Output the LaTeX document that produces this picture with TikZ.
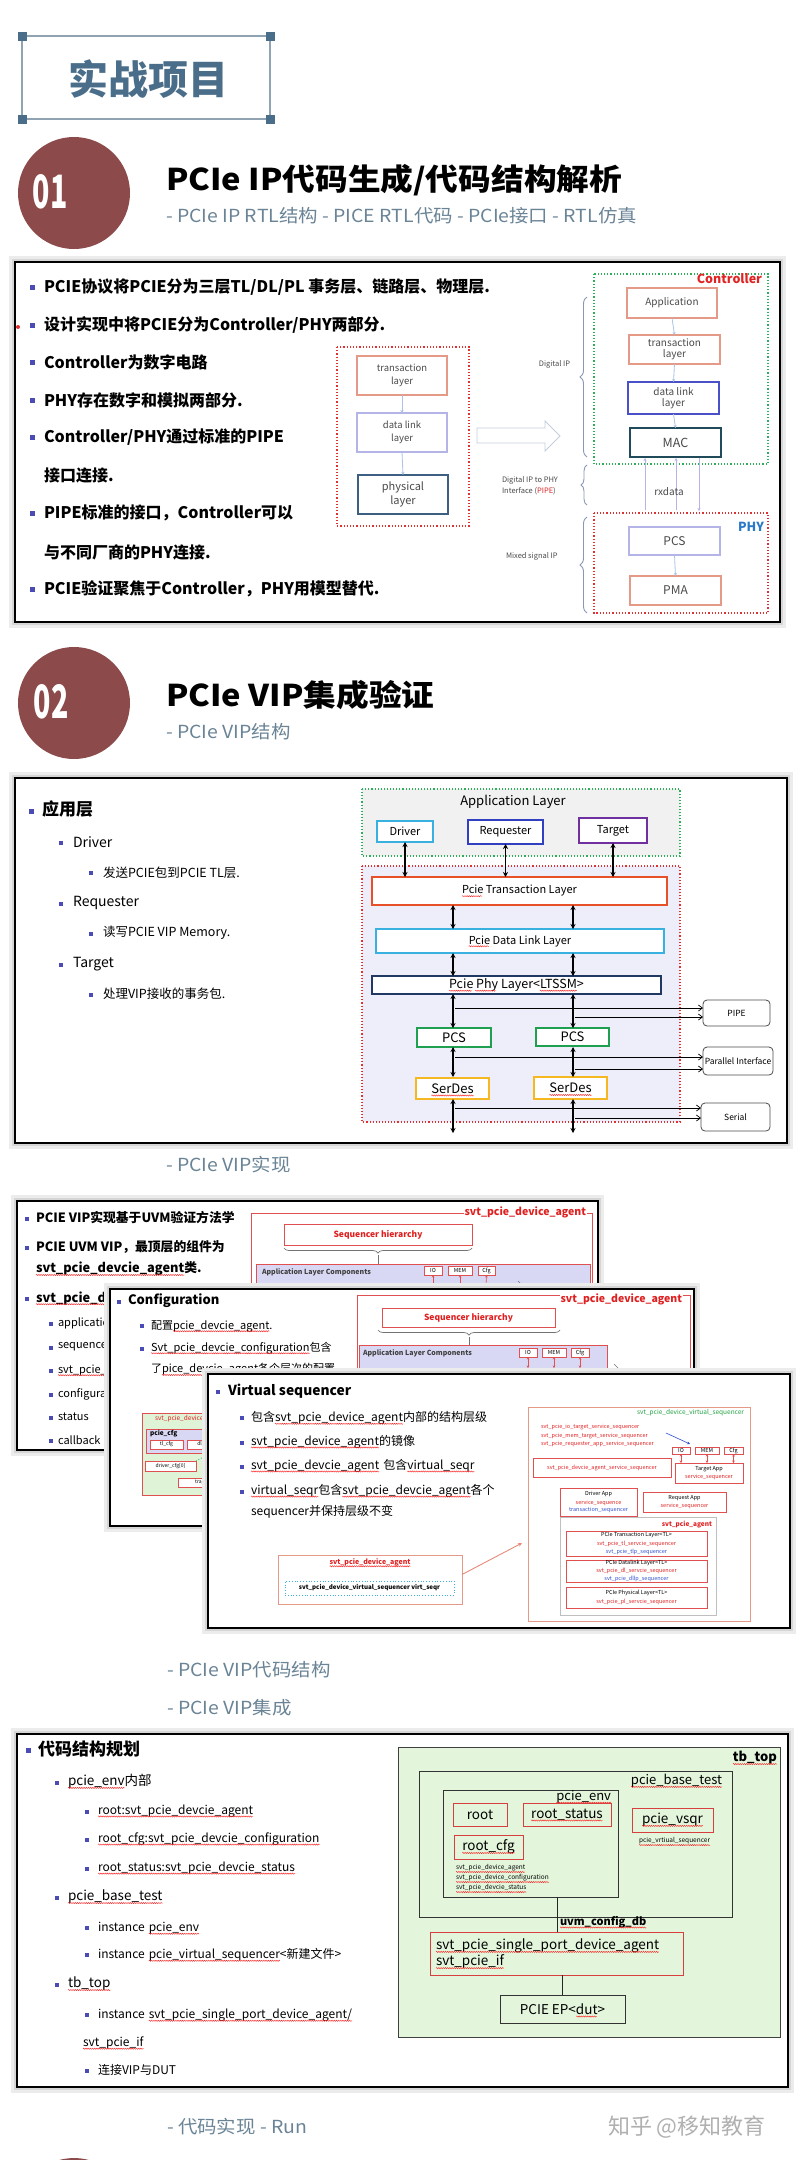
\documentclass[tikz,border=0pt]{standalone}
\usepackage{fontspec}
\setmainfont{Noto Sans CJK SC}
\usetikzlibrary{arrows.meta,decorations.pathreplacing,decorations.pathmorphing}
\definecolor{hblue}{HTML}{4A6E8A}
\definecolor{hline}{HTML}{8FA3B3}
\definecolor{circ}{HTML}{8C4A4A}
\definecolor{subc}{HTML}{6A8496}
\definecolor{bulc}{HTML}{4B4BB5}
\definecolor{salmon}{HTML}{E49A86}
\definecolor{lpurp}{HTML}{B4B4E6}
\definecolor{dkblue}{HTML}{3C5F82}
\definecolor{lblue}{HTML}{A9C2E6}
\definecolor{gdot}{HTML}{2FAE5A}
\definecolor{rdot}{HTML}{E03030}
\definecolor{ctrlred}{HTML}{E02424}
\definecolor{phyblue}{HTML}{2A78C8}
\definecolor{braceg}{HTML}{8A98B8}
\definecolor{mblue}{HTML}{4A50C8}
\definecolor{macc}{HTML}{1F4B5A}
\definecolor{txg}{HTML}{4A4A4A}
\definecolor{appfill}{HTML}{F1F1F1}
\definecolor{lavfill}{HTML}{EEEEFA}
\definecolor{cyanb}{HTML}{38B0E0}
\definecolor{reqb}{HTML}{3040C0}
\definecolor{tgtb}{HTML}{7030A0}
\definecolor{tlred}{HTML}{E8502A}
\definecolor{navy}{HTML}{1F3864}
\definecolor{pcsg}{HTML}{1FA050}
\definecolor{serd}{HTML}{F5B820}
\definecolor{sred}{HTML}{E05050}
\definecolor{slav}{HTML}{D8D8F4}
\definecolor{sgreen}{HTML}{DFF3D6}
\definecolor{rtext}{HTML}{E02020}
\definecolor{gtext}{HTML}{20A040}
\definecolor{btext}{HTML}{3050D0}
\definecolor{tbfill}{HTML}{E3F6DC}
\definecolor{cred}{HTML}{D84040}
\definecolor{wm}{HTML}{B0B0B0}
\newcommand\F[1]{\fontsize{#1}{#1}\selectfont}
\newcommand\bu[3]{\fill[bulc] (#1-#3/2,#2-#3/2) rectangle (#1+#3/2,#2+#3/2);}
\newcommand\shbox[4]{\fill[gray!15] (#1-6,#2-6) rectangle (#3+6,#4+6);\fill[gray!32] (#1-3,#2-3) rectangle (#3+3,#4+3);\fill[white] (#1,#2) rectangle (#3,#4);}
\newcommand\bx[7]{\node[#6,minimum width={#4-#2},minimum height={#5-#3},anchor=center] (#1) at ({(#2+#4)/2},{(#3+#5)/2}) {#7};}
\newcommand\ul[1]{\draw[wavy] ([yshift=-2.2pt]#1.base west) -- ([yshift=-2.2pt]#1.base east);}
\begin{document}
\begin{tikzpicture}[x=1pt,y=-1pt,every node/.style={inner sep=0pt,outer sep=0pt},
  T/.style={anchor=west}, E/.style={anchor=east}, C/.style={anchor=base west},
  wavy/.style={draw=red!85,line width=0.45pt,decorate,decoration={snake,amplitude=0.6pt,segment length=2.2pt}},
  dar/.style={{Stealth[length=5pt,width=5pt]}-{Stealth[length=5pt,width=5pt]},line width=1.5pt},
  thar/.style={-{Straight Barb[length=4pt,width=6pt]},line width=0.7pt},
  lbar/.style={-{Stealth[length=3pt,width=3pt]},lblue,line width=0.8pt},
  sar/.style={{Stealth[length=2.5pt,width=2.5pt]}-{Stealth[length=2.5pt,width=2.5pt]},sred,line width=0.6pt},
  sub/.style={anchor=west,font=\F{18},text=subc,xscale=1.08}]
\fill[white] (0,0) rectangle (798,2160);
\useasboundingbox (0,0) rectangle (798,2160);

% ===== header =====
\draw[hline,line width=1.3pt] (22,36) rectangle (270,119);
\foreach \cx/\cy in {22/36,270/36,22/119,270/119} \fill[hblue] (\cx-4.5,\cy-4.5) rectangle (\cx+4.5,\cy+4.5);
\node[font=\F{40}\bfseries,text=hblue] (hdr) at (148,79) {实战项目};

\fill[circ] (74,193) circle[radius=56];
\node[font=\F{46}\bfseries,text=white,xscale=0.62] (n01) at (50,192) {01};
\node[T,font=\F{30}\bfseries,xscale=1.09] (t01) at (166,180) {PCIe IP代码生成/代码结构解析};
\node[sub] (s01) at (166,216) {- PCIe IP RTL结构 - PICE RTL代码 - PCIe接口 - RTL仿真};

% ===== section 1 box =====
\shbox{15}{262}{780}{622}
\bu{32}{287}{5}\node[T,font=\F{16}\bfseries] at (44,287) {PCIE协议将PCIE分为三层TL/DL/PL 事务层、链路层、物理层.};
\bu{32}{325}{5}\node[T,font=\F{16}\bfseries] at (44,325) {设计实现中将PCIE分为Controller/PHY两部分.};
\fill[rdot] (18,327) circle[radius=2];
\bu{32}{362}{5}\node[T,font=\F{16}\bfseries] at (44,362) {Controller为数字电路};
\bu{32}{400}{5}\node[T,font=\F{16}\bfseries] at (44,400) {PHY存在数字和模拟两部分.};
\bu{32}{437}{5}\node[T,font=\F{16}\bfseries] at (44,437) {Controller/PHY通过标准的PIPE};
\node[T,font=\F{16}\bfseries] at (44,476) {接口连接.};
\bu{32}{513}{5}\node[T,font=\F{16}\bfseries] at (44,513) {PIPE标准的接口，Controller可以};
\node[T,font=\F{16}\bfseries] at (44,552) {与不同厂商的PHY连接.};
\bu{32}{589}{5}\node[T,font=\F{16}\bfseries] at (44,589) {PCIE验证聚焦于Controller，PHY用模型替代.};

% left stack
\draw[rdot,dotted,line width=1.2pt] (337,347) rectangle (469,526);
\bx{ltl}{357}{356}{447}{395}{draw=salmon,line width=1.2pt,font=\F{9.5},text=txg,align=center}{transaction\\[3pt]layer}
\bx{ldl}{357}{413}{447}{452}{draw=lpurp,line width=1.2pt,font=\F{9.5},text=txg,align=center}{data link\\[3pt]layer}
\bx{lpl}{358}{475}{448}{514}{draw=dkblue,line width=1.8pt,font=\F{11},text=txg,align=center}{physical\\[2pt]layer}
\draw[lbar] (ltl.south) -- (ldl.north);
\draw[lbar] (ldl.south) -- (lpl.north);
% hollow arrow
\draw[lblue!70!gray!60,line width=0.8pt,fill=white] (477,428) -- (545,428) -- (545,421) -- (560,436) -- (545,451) -- (545,443) -- (477,443) -- cycle;
% braces
\draw[braceg,line width=0.9pt,decorate,decoration={brace,amplitude=7pt}] (587,457) -- (587,297);
\draw[braceg,line width=0.9pt,decorate,decoration={brace,amplitude=6pt}] (587,505) -- (587,465);
\draw[braceg,line width=0.9pt,decorate,decoration={brace,amplitude=7pt}] (587,613) -- (587,517);
\node[E,font=\F{7.5},text=txg] at (570,364) {Digital IP};
\node[T,font=\F{7.5},text=txg] at (502,480) {Digital IP to PHY};
\node[T,font=\F{7.5},text=txg] at (502,491) {Interface (\textcolor{ctrlred}{PIPE})};
\node[T,font=\F{7.5},text=txg] at (506,556) {Mixed signal IP};
% controller
\draw[gdot,dotted,line width=1.2pt] (594,274) rectangle (768,464);
\node[E,font=\F{12.5}\bfseries,text=ctrlred] at (762,279) {Controller};
\bx{capp}{627}{288}{717}{318}{draw=salmon,line width=1.2pt,font=\F{10},text=txg}{Application}
\bx{ctl}{629}{335}{720}{364}{draw=salmon,line width=1.2pt,font=\F{10},text=txg,align=center}{transaction\\[1pt]layer}
\bx{cdl}{628}{382}{719}{414}{draw=mblue,line width=1.6pt,font=\F{10},text=txg,align=center}{data link\\[1pt]layer}
\bx{cmac}{630}{428}{721}{457}{draw=macc,line width=1.8pt,font=\F{12.5},text=txg}{MAC}
\draw[lbar] (capp.south) -- (ctl.north);
\draw[lbar] (ctl.south) -- (cdl.north);
\draw[lbar] (cdl.south) -- (cmac.north);
% PHY
\draw[rdot,dotted,line width=1.2pt] (594,513) rectangle (768,613);
\node[E,font=\F{12.5}\bfseries,text=phyblue] at (764,527) {PHY};
\bx{ppcs}{629}{527}{720}{555}{draw=lpurp,line width=1.2pt,font=\F{12},text=txg}{PCS}
\bx{ppma}{630}{576}{721}{605}{draw=salmon,line width=1.2pt,font=\F{12},text=txg}{PMA}
\draw[lbar] (ppcs.south) -- (ppma.north);
\coordinate (m1) at (645,510); \coordinate (m2) at (676,510); \coordinate (m3) at (699,458);
\draw[lbar,lpurp] (m1) -- (645,458);
\draw[lbar,lpurp] (m2) -- (676,458);
\draw[lbar,lpurp] (m3) -- (699,511);
\node[font=\F{10},text=txg] at (669,492) {rxdata};
\draw[line width=2pt] (15,262) rectangle (780,622);

% ===== section 2 header =====
\fill[circ] (74,703) circle[radius=56];
\node[font=\F{46}\bfseries,text=white,xscale=0.62] (n02) at (51,702) {02};
\node[T,font=\F{30}\bfseries,xscale=1.09] (t02) at (166,695) {PCIe VIP集成验证};
\node[sub] (s02) at (166,732) {- PCIe VIP结构};

% ===== section 2 box =====
\shbox{15}{778}{787}{1143}
\bu{31}{811}{5}\node[T,font=\F{17}\bfseries] at (42,809) {应用层};
\bu{61}{843}{4}\node[T,font=\F{14}] at (73,842) {Driver};
\bu{91}{873}{4}\node[T,font=\F{12.5}] at (103,873) {发送PCIE包到PCIE TL层.};
\bu{61}{904}{4}\node[T,font=\F{14}] at (73,903) {Requester};
\bu{91}{934}{4}\node[T,font=\F{12.5}] at (103,933) {读写PCIE VIP Memory.};
\bu{61}{965}{4}\node[T,font=\F{14}] at (73,964) {Target};
\bu{91}{995}{4}\node[T,font=\F{12.5}] at (103,994) {处理VIP接收的事务包.};

\fill[appfill] (362,789) rectangle (680,856);
\draw[gdot,dotted,line width=1.1pt] (362,789) rectangle (680,856);
\node[font=\F{13}] (appl) at (513,802) {Application Layer};
\bx{drv}{377}{821}{433}{842}{draw=cyanb,line width=1.4pt,fill=white,font=\F{11}}{Driver}
\bx{req}{468}{820}{543}{844}{draw=reqb,line width=1.4pt,fill=white,font=\F{11}}{Requester}
\bx{tgt}{579}{818}{647}{843}{draw=tgtb,line width=1.4pt,fill=white,font=\F{11}}{Target}
\fill[lavfill] (362,866) rectangle (680,1122);
\draw[rdot,dotted,line width=1.1pt] (362,866) rectangle (680,1122);
\bx{ptl}{372}{877}{667}{905}{draw=tlred,line width=1.2pt,fill=white}{}
\node[font=\F{11}] (ptlt) at (ptl) {Pcie Transaction Layer};
\draw[wavy] ([yshift=-2.2pt]ptlt.base west) -- ([xshift=20pt,yshift=-2.2pt]ptlt.base west);
\bx{pdl}{376}{929}{664}{953}{draw=cyanb,line width=1.4pt,fill=white}{}
\node[font=\F{11}] (pdlt) at (pdl) {Pcie Data Link Layer};
\draw[wavy] ([yshift=-2.2pt]pdlt.base west) -- ([xshift=20pt,yshift=-2.2pt]pdlt.base west);
\bx{ppl}{372}{976}{661}{994}{draw=navy,line width=1.2pt,fill=white}{}
\node[font=\F{12.5}] (pplt) at (ppl) {Pcie Phy Layer<LTSSM>};
\draw[wavy] ([yshift=-2.2pt]pplt.base west) -- ([xshift=23pt,yshift=-2.2pt]pplt.base west);
\draw[wavy] ([xshift=26pt,yshift=-2.2pt]pplt.base west) -- ([xshift=47pt,yshift=-2.2pt]pplt.base west);
\draw[wavy] ([xshift=-44pt,yshift=-2.2pt]pplt.base east) -- ([xshift=-7pt,yshift=-2.2pt]pplt.base east);
\bx{pcs1}{417}{1028}{491}{1047}{draw=pcsg,line width=1.4pt,fill=white,font=\F{13}}{PCS}
\bx{pcs2}{536}{1028}{609}{1046}{draw=pcsg,line width=1.4pt,fill=white,font=\F{13}}{PCS}
\bx{sd1}{416}{1078}{489}{1099}{draw=serd,line width=1.4pt,fill=white}{}
\bx{sd2}{534}{1077}{607}{1099}{draw=serd,line width=1.4pt,fill=white}{}
\node[font=\F{13}] (sd1t) at (sd1) {SerDes};\ul{sd1t}
\node[font=\F{13}] (sd2t) at (sd2) {SerDes};\ul{sd2t}
\bx{pipe}{703}{1000}{770}{1026}{draw=black!70,rounded corners=4pt,line width=0.8pt,font=\F{8.5}}{PIPE}
\bx{par}{703}{1047}{773}{1075}{draw=black!70,rounded corners=4pt,line width=0.8pt,font=\F{8.5}}{Parallel Interface}
\bx{ser}{701}{1103}{770}{1131}{draw=black!70,rounded corners=4pt,line width=0.8pt,font=\F{8.5}}{Serial}
\draw[dar] (drv.south) -- (drv.south |- ptl.north);
\draw[dar] (req.south) -- (req.south |- ptl.north);
\draw[dar] (tgt.south) -- (tgt.south |- ptl.north);
\foreach \xx in {453,573} {
  \draw[dar] (\xx,905) -- (\xx,929);
  \draw[dar] (\xx,953) -- (\xx,976);
  \draw[dar] (\xx,994) -- (\xx,1028);
  \draw[dar] (\xx,1047) -- (\xx,1077);
  \draw[dar] (\xx,1099) -- (\xx,1133);
}
\draw[thar] (455,1008) -- (pipe.west |- 0,1008);
\draw[thar] (575,1017) -- (pipe.west |- 0,1017);
\draw[thar] (455,1057) -- (par.west |- 0,1057);
\draw[thar] (575,1069) -- (par.west |- 0,1069);
\draw[thar] (455,1108) -- (ser.west |- 0,1108);
\draw[thar] (575,1118) -- (ser.west |- 0,1118);
\draw[line width=2pt] (15,778) rectangle (787,1143);

\node[sub] (s03) at (166,1165) {- PCIe VIP实现};

% ===== slide 1 =====
\shbox{17}{1201}{598}{1450}
\bu{27}{1219}{4.5}\node[T,font=\F{12.8}\bfseries] at (36,1218) {PCIE VIP实现基于UVM验证方法学};
\bu{27}{1248}{4.5}\node[T,font=\F{12.8}\bfseries] at (36,1247) {PCIE UVM VIP，最顶层的组件为};
\node[T,font=\F{12.8}\bfseries] (a1) at (36,1269) {svt\_pcie\_devcie\_agent};\node[C,font=\F{12.8}\bfseries] at (a1.base east) {类.};\ul{a1}
\bu{27}{1299}{4.5}\node[T,font=\F{12.8}\bfseries] (a2) at (36,1298) {svt\_pcie\_dev};\ul{a2}
\bu{51}{1324}{3.5}\node[T,font=\F{11}] at (58,1323) {application};
\bu{51}{1348}{3.5}\node[T,font=\F{11}] at (58,1347) {sequencer};
\bu{51}{1371}{3.5}\node[T,font=\F{11}] (a3) at (58,1370) {svt\_pcie\_a};\ul{a3}
\bu{51}{1395}{3.5}\node[T,font=\F{11}] at (58,1394) {configurati};
\bu{51}{1418}{3.5}\node[T,font=\F{11}] at (58,1417) {status};
\bu{51}{1441}{3.5}\node[T,font=\F{11}] at (58,1440) {callback};
\draw[sred,line width=1pt] (251,1300) -- (251,1213) -- (592,1213) -- (592,1300);
\node[E,font=\F{10.5}\bfseries,text=rtext,fill=white,inner sep=1pt] (a4) at (587,1212) {svt\_pcie\_device\_agent};
\bx{sh1}{284}{1224}{472}{1245}{draw=sred,line width=1pt,font=\F{8.5}\bfseries,text=rtext}{Sequencer hierarchy}
\draw[black!55,line width=0.7pt,decorate,decoration={brace,amplitude=5pt,mirror}] (284,1248) -- (472,1248);
\draw[black!55,line width=0.7pt] (378,1255) -- (378,1264);
\fill[slav] (256,1264) rectangle (590,1300);
\draw[sred,line width=0.8pt] (256,1300) -- (256,1264) -- (590,1264) -- (590,1300);
\node[T,font=\F{7}\bfseries,text=black!75] at (262,1272) {Application Layer Components};
\bx{io1}{424}{1266}{442}{1275}{draw=sred,line width=0.6pt,fill=white,font=\F{5.5}}{IO}
\bx{me1}{448}{1266}{472}{1275}{draw=sred,line width=0.6pt,fill=white,font=\F{5.5}}{MEM}
\bx{cf1}{478}{1266}{495}{1275}{draw=sred,line width=0.6pt,fill=white,font=\F{5.5}}{Cfg}
\draw[sar] (io1.south) -- (433,1286);
\draw[sar] (me1.south) -- (460,1286);
\draw[sar] (cf1.south) -- (486,1286);
\draw[sred,line width=0.6pt] (257,1300) -- (257,1286) -- (337,1286) -- (337,1300) (341,1300) -- (341,1286) -- (420,1286) -- (420,1300) (426,1300) -- (426,1286) -- (497,1286) -- (497,1300);
\draw[black!55,line width=0.6pt] (518,1281) -- (522,1285) -- (518,1289);
\draw[line width=2pt] (17,1201) rectangle (598,1450);

% ===== slide 2 =====
\shbox{110}{1289}{694}{1526}
\bu{119}{1302}{4.5}\node[T,font=\F{13}\bfseries] at (128,1301) {Configuration};
\bu{142}{1326}{3.5}\node[T,font=\F{11}] (b1a) at (151,1325) {配置};\node[C,font=\F{11}] (b1) at (b1a.base east) {pcie\_devcie\_agent};\node[C,font=\F{11}] at (b1.base east) {.};\ul{b1}
\bu{142}{1349}{3.5}\node[T,font=\F{11}] (b2) at (151,1348) {Svt\_pcie\_devcie\_configuration};\node[C,font=\F{11}] at (b2.base east) {包含};\ul{b2}
\node[T,font=\F{11}] (b3a) at (151,1369) {了};\node[C,font=\F{11}] (b3) at (b3a.base east) {pice\_devcie\_agent};\node[C,font=\F{11}] at (b3.base east) {各个层次的配置};\ul{b3}
\draw[sred,line width=1pt] (357,1380) -- (357,1295) -- (690,1295) -- (690,1380);
\node[E,font=\F{10.5}\bfseries,text=rtext,fill=white,inner sep=1pt] (b4) at (683,1299) {svt\_pcie\_device\_agent};
\bx{sh2}{382}{1308}{555}{1327}{draw=sred,line width=1pt,font=\F{8.5}\bfseries,text=rtext}{Sequencer hierarchy}
\draw[black!55,line width=0.7pt,decorate,decoration={brace,amplitude=5pt,mirror}] (378,1330) -- (560,1330);
\draw[black!55,line width=0.7pt] (469,1337) -- (469,1345);
\fill[slav] (359,1345) rectangle (607,1380);
\draw[sred,line width=0.8pt] (359,1380) -- (359,1345) -- (607,1345) -- (607,1380);
\node[T,font=\F{7}\bfseries,text=black!75] at (363,1353) {Application Layer Components};
\bx{io2}{519}{1348}{537}{1357}{draw=sred,line width=0.6pt,fill=white,font=\F{5.5}}{IO}
\bx{me2}{542}{1348}{566}{1357}{draw=sred,line width=0.6pt,fill=white,font=\F{5.5}}{MEM}
\bx{cf2}{571}{1348}{589}{1357}{draw=sred,line width=0.6pt,fill=white,font=\F{5.5}}{Cfg}
\draw[sar] (io2.south) -- (528,1368);
\draw[sar] (me2.south) -- (554,1368);
\draw[sar] (cf2.south) -- (580,1368);
\draw[sred,line width=0.6pt] (362,1380) -- (362,1368) -- (434,1368) -- (434,1380) (438,1380) -- (438,1368) -- (513,1368) -- (513,1380) (517,1380) -- (517,1368) -- (592,1368) -- (592,1380);
\draw[black!55,line width=0.6pt] (614,1364) -- (618,1368) -- (614,1372);
% small diagram
\fill[sgreen] (142,1413) rectangle (240,1495);
\draw[sred,line width=0.8pt] (240,1413) -- (142,1413) -- (142,1495) -- (240,1495);
\node[T,font=\F{6.5},text=rtext] at (155,1419) {svt\_pcie\_device};
\fill[slav] (146,1429) rectangle (240,1453);
\draw[sred,line width=0.6pt] (240,1429) -- (146,1429) -- (146,1453) -- (240,1453);
\node[T,font=\F{6.5}\bfseries] at (150,1434) {pcie\_cfg};
\bx{tlc}{150}{1440}{183}{1449}{draw=sred,line width=0.6pt,fill=white,font=\F{5}}{tl\_cfg}
\bx{dlc}{187}{1440}{222}{1449}{draw=sred,line width=0.6pt,fill=white,font=\F{5}}{dl\_cfg}
\bx{drc}{145}{1461}{196}{1471}{draw=sred,line width=0.6pt,fill=white,font=\F{5}}{driver\_cfg[0]}
\bx{xc}{204}{1461}{226}{1471}{draw=sred,line width=0.6pt,fill=white,font=\F{5}}{}
\bx{trc}{178}{1478}{236}{1487}{draw=sred,line width=0.6pt,fill=white,font=\F{5}}{traget\_cfg}
\draw[gdot,dotted,line width=0.8pt] (drc.north east) -- (207,1455);
\draw[line width=2pt] (110,1289) rectangle (694,1526);

% ===== slide 3 =====
\shbox{208}{1374}{790}{1628}
\bu{218}{1392}{4.5}\node[T,font=\F{13.8}\bfseries] at (228,1391) {Virtual sequencer};
\bu{242}{1418}{3.5}\node[T,font=\F{12}] (d1a) at (251,1417) {包含};\node[C,font=\F{12}] (d1) at (d1a.base east) {svt\_pcie\_device\_agent};\node[C,font=\F{12}] at (d1.base east) {内部的结构层级};\ul{d1}
\bu{242}{1443}{3.5}\node[T,font=\F{12}] (d2) at (251,1442) {svt\_pcie\_device\_agent};\node[C,font=\F{12}] at (d2.base east) {的镜像};\ul{d2}
\bu{242}{1467}{3.5}\node[T,font=\F{12}] (d3) at (251,1466) {svt\_pcie\_devcie\_agent};\node[C,font=\F{12}] (d3b) at ([xshift=4pt]d3.base east) {包含};\node[C,font=\F{12}] (d3c) at (d3b.base east) {virtual\_seqr};\ul{d3}\ul{d3c}
\bu{242}{1492}{3.5}\node[T,font=\F{12}] (d4) at (251,1491) {virtual\_seqr};\node[C,font=\F{12}] (d4b) at (d4.base east) {包含};\node[C,font=\F{12}] (d4c) at (d4b.base east) {svt\_pcie\_devcie\_agent};\node[C,font=\F{12}] at (d4c.base east) {各个};\ul{d4}\ul{d4c}
\node[T,font=\F{12}] at (251,1512) {sequencer并保持层级不变};
% lower-left box
\bx{vag}{278}{1555}{462}{1604}{draw=salmon,line width=0.9pt}{}
\node[font=\F{7}\bfseries,text=rtext] (vagt) at (370,1562) {svt\_pcie\_device\_agent};\ul{vagt}
\bx{vsq}{285}{1581}{454}{1595}{draw=cyanb,dotted,line width=0.8pt,font=\F{6.2}\bfseries}{svt\_pcie\_device\_virtual\_sequencer virt\_seqr}
\coordinate (vtip) at (522,1543);
\draw[salmon!90!red,line width=0.9pt,-{Stealth[length=4pt,width=4pt]}] (vag.east) ++(0,-5) -- (vtip);
% right diagram
\draw[salmon,line width=0.9pt] (528,1407) rectangle (750,1621);
\node[E,font=\F{6.5},text=gtext] at (744,1413) {svt\_pcie\_device\_virtual\_sequencer};
\node[T,font=\F{5.5},text=rtext] at (541,1427) {svt\_pcie\_io\_target\_service\_sequencer};
\node[T,font=\F{5.5},text=rtext] at (541,1436) {svt\_pcie\_mem\_target\_service\_sequencer};
\node[T,font=\F{5.5},text=rtext] at (541,1444) {svt\_pcie\_requester\_app\_service\_sequencer};
\draw[btext,line width=0.6pt,-{Stealth[length=3pt,width=3pt]}] (666,1433) -- (690,1444);
\bx{io3}{672}{1447}{690}{1454}{draw=sred,line width=0.6pt,font=\F{5.5}}{IO}
\bx{me3}{695}{1447}{719}{1454}{draw=sred,line width=0.6pt,font=\F{5.5}}{MEM}
\bx{cf3}{724}{1447}{743}{1454}{draw=sred,line width=0.6pt,font=\F{5.5}}{Cfg}
\bx{dss}{533}{1458}{671}{1477}{draw=sred,line width=0.7pt,font=\F{5.5},text=rtext}{svt\_pcie\_devcie\_agent\_service\_sequencer}
\bx{tap}{675}{1463}{743}{1483}{draw=sred,line width=0.7pt,font=\F{5.5},align=center}{Target App\\[2pt]\textcolor{rtext}{service\_sequencer}}
\draw[sar] (io3.south) -- (io3.south |- tap.north);
\draw[sar] (me3.south) -- (me3.south |- tap.north);
\draw[sar] (cf3.south) -- (cf3.south |- tap.north);
\bx{dap}{560}{1488}{637}{1516}{draw=sred,line width=0.7pt,font=\F{5.5},align=center}{Driver App\\[2pt]\textcolor{rtext}{service\_sequence}\\[1pt]\textcolor{btext}{transaction\_sequencer}}
\bx{rap}{643}{1492}{726}{1512}{draw=sred,line width=0.7pt,font=\F{5.5},align=center}{Request App\\[2pt]\textcolor{rtext}{service\_sequencer}}
\draw[black!25,line width=0.7pt] (560,1517) rectangle (716,1615);
\node[E,font=\F{6.5}\bfseries,text=rtext] at (712,1525) {svt\_pcie\_agent};
\bx{ttl}{566}{1531}{707}{1556}{draw=sred,line width=0.7pt,font=\F{5.5},align=center}{PCIe Transaction Layer<TL>\\[1.5pt]\textcolor{rtext}{svt\_pcie\_tl\_servcie\_sequencer}\\[1.5pt]\textcolor{btext}{svt\_pcie\_tlp\_sequencer}}
\bx{tdl}{566}{1560}{707}{1582}{draw=sred,line width=0.7pt,font=\F{5.5},align=center}{PCIe Datalink Layer<TL>\\[1.5pt]\textcolor{rtext}{svt\_pcie\_dl\_servcie\_sequencer}\\[1.5pt]\textcolor{btext}{svt\_pcie\_dllp\_sequencer}}
\bx{tpl}{566}{1587}{707}{1608}{draw=sred,line width=0.7pt,font=\F{5.5},align=center}{PCIe Physical Layer<TL>\\[2pt]\textcolor{rtext}{svt\_pcie\_pl\_servcie\_sequencer}}
\draw[line width=2pt] (208,1374) rectangle (790,1628);

\node[sub] (s04) at (167,1670) {- PCIe VIP代码结构};
\node[sub] (s05) at (167,1708) {- PCIe VIP集成};

% ===== code section =====
\shbox{17}{1734}{788}{2087}
\bu{28}{1750}{5}\node[T,font=\F{17}\bfseries] at (38,1749) {代码结构规划};
\bu{57}{1783}{4}\node[T,font=\F{13.5}] (c1) at (68,1782) {pcie\_env};\node[C,font=\F{13.5}] at (c1.base east) {内部};\ul{c1}
\bu{87}{1812}{3.5}\node[T,font=\F{12}] (c2) at (98,1811) {root:svt\_pcie\_devcie\_agent};\ul{c2}
\bu{87}{1840}{3.5}\node[T,font=\F{12}] (c3) at (98,1839) {root\_cfg:svt\_pcie\_devcie\_configuration};\ul{c3}
\bu{87}{1869}{3.5}\node[T,font=\F{12}] (c4) at (98,1868) {root\_status:svt\_pcie\_devcie\_status};\ul{c4}
\bu{57}{1898}{4}\node[T,font=\F{13.5}] (c5) at (68,1897) {pcie\_base\_test};\ul{c5}
\bu{87}{1928}{3.5}\node[T,font=\F{12}] (c6a) at (98,1927) {instance};\node[C,font=\F{12}] (c6) at ([xshift=4pt]c6a.base east) {pcie\_env};\ul{c6}
\bu{87}{1955}{3.5}\node[T,font=\F{12}] (c7a) at (98,1954) {instance};\node[C,font=\F{12}] (c7) at ([xshift=4pt]c7a.base east) {pcie\_virtual\_sequencer};\node[C,font=\F{12}] at (c7.base east) {<新建文件>};\ul{c7}
\bu{57}{1985}{4}\node[T,font=\F{13.5}] (c8) at (68,1984) {tb\_top};\ul{c8}
\bu{87}{2015}{3.5}\node[T,font=\F{12}] (c9a) at (98,2014) {instance};\node[C,font=\F{12}] (c9) at ([xshift=4pt]c9a.base east) {svt\_pcie\_single\_port\_device\_agent/};\ul{c9}
\node[T,font=\F{12}] (c10) at (83,2043) {svt\_pcie\_if};\ul{c10}
\bu{87}{2071}{3.5}\node[T,font=\F{12}] at (98,2070) {连接VIP与DUT};

\bx{tb}{398}{1747}{780}{2037}{draw=black!75,fill=tbfill,line width=0.8pt}{}
\node[E,font=\F{13}\bfseries] (tbl) at (777,1758) {tb\_top};\ul{tbl}
\bx{base}{419}{1771}{732}{1917}{draw=black!80,line width=0.8pt}{}
\node[E,font=\F{13}] (basel) at (722,1781) {pcie\_base\_test};\ul{basel}
\bx{env}{443}{1790}{618}{1897}{draw=black!80,line width=0.8pt}{}
\node[E,font=\F{13}] (envl) at (611,1797) {pcie\_env};\ul{envl}
\bx{root}{453}{1803}{507}{1826}{draw=cred,line width=0.9pt,font=\F{13.5}}{root}
\bx{rst}{523}{1803}{611}{1826}{draw=cred,line width=0.9pt}{}
\node[font=\F{13.5}] (rstt) at (rst) {root\_status};\ul{rstt}
\bx{rcfg}{454}{1835}{523}{1859}{draw=cred,line width=0.9pt}{}
\node[font=\F{13.5}] (rcfgt) at (rcfg) {root\_cfg};\ul{rcfgt}
\node[T,font=\F{6.5}] (e1) at (456,1868) {svt\_pcie\_device\_agent};\ul{e1}
\node[T,font=\F{6.5}] (e2) at (456,1878) {svt\_pcie\_device\_configuration};\ul{e2}
\node[T,font=\F{6.5}] (e3) at (456,1888) {svt\_pcie\_devcie\_status};\ul{e3}
\bx{vsqr}{632}{1808}{713}{1832}{draw=cred,line width=0.9pt}{}
\node[font=\F{13.5}] (vsqrt) at (vsqr) {pcie\_vsqr};\ul{vsqrt}
\node[T,font=\F{6.5}] (e4) at (639,1841) {pcie\_vrtiual\_sequencer};\ul{e4}
\bx{agt}{430}{1932}{683}{1975}{draw=cred,line width=0.9pt}{}
\node[T,font=\F{13.5}] (agt1) at (436,1946) {svt\_pcie\_single\_port\_device\_agent};\ul{agt1}
\node[T,font=\F{13.5}] (agt2) at (436,1962) {svt\_pcie\_if};\ul{agt2}
\bx{dut}{500}{1995}{625}{2023}{draw=black!80,line width=0.9pt}{}
\node[font=\F{13.5}] (dutt) at (dut) {PCIE EP<dut>};
\draw[wavy] ([xshift=-29pt,yshift=-2.2pt]dutt.base east) -- ([xshift=-8pt,yshift=-2.2pt]dutt.base east);
\draw[black!85,line width=0.8pt] (557,1897) -- (557,1932);
\draw[black!85,line width=0.8pt] (agt.south -| dut.north) -- (dut.north);
\node[T,font=\F{11}\bfseries] (uvm) at (560,1922) {uvm\_config\_db};\ul{uvm}
\draw[line width=2pt] (17,1734) rectangle (788,2087);

\node[sub] (s06) at (167,2127) {- 代码实现 - Run};
\node[T,font=\F{22},text=wm] (wmk) at (608,2127) {知乎 @移知教育};
\fill[circ] (74,2214) circle[radius=56];
\end{tikzpicture}
\end{document}
